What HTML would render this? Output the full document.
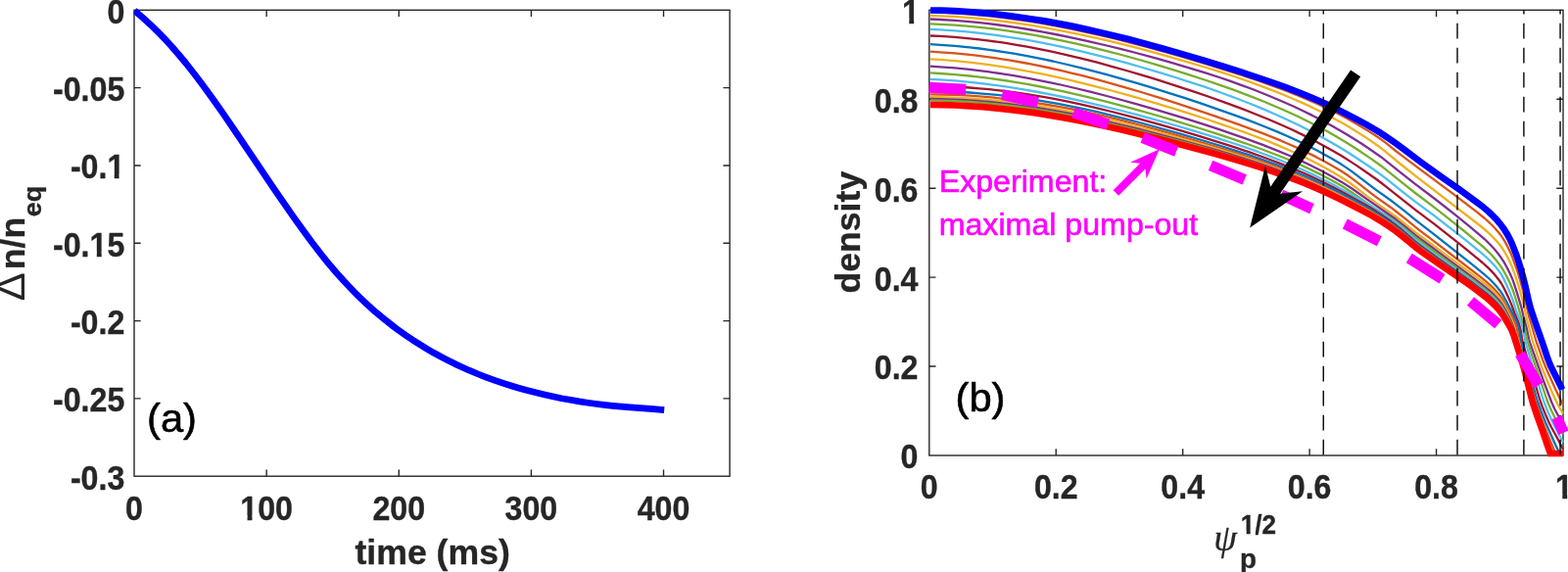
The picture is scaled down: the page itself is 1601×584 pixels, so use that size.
<!DOCTYPE html>
<html lang="en">
<head>
<meta charset="utf-8">
<title>Density pump-out: time trace and profile evolution</title>
<style>
html,body{margin:0;padding:0;background:#fff;}
body{width:1601px;height:584px;overflow:hidden;}
svg{display:block;}
</style>
</head>
<body>
<svg width="1601" height="584" viewBox="0 0 1601 584" role="img" aria-label="Density pump-out: (a) relative density change versus time, (b) density profiles versus normalised radius">
<defs>
<clipPath id="c2"><rect x="948.8" y="10.3" width="647.20" height="454.70"/></clipPath>
<clipPath id="c1"><rect x="136.6" y="0" width="640" height="520"/></clipPath>
</defs>
<rect width="1601" height="584" fill="#fff"/>
<rect x="137.0" y="10.3" width="608.10" height="475.90" fill="none" stroke="#262626" stroke-width="1.39"/>
<path d="M272.13,486.2 v-6.7 M272.13,10.3 v6.7 M407.27,486.2 v-6.7 M407.27,10.3 v6.7 M542.40,486.2 v-6.7 M542.40,10.3 v6.7 M677.53,486.2 v-6.7 M677.53,10.3 v6.7 M137.0,89.62 h6.7 M745.1,89.62 h-6.7 M137.0,168.93 h6.7 M745.1,168.93 h-6.7 M137.0,248.25 h6.7 M745.1,248.25 h-6.7 M137.0,327.57 h6.7 M745.1,327.57 h-6.7 M137.0,406.88 h6.7 M745.1,406.88 h-6.7" fill="none" stroke="#262626" stroke-width="1.39"/>
<path d="M137.3,10.7 L146.3,18.5 L153.6,25.2 L160.8,32.2 L168.1,39.6 L175.3,47.5 L182.5,55.8 L189.8,64.5 L198.8,76.0 L206.0,85.5 L213.3,95.4 L220.5,105.5 L227.8,115.9 L242.2,137.0 L280.2,193.3 L291.1,209.1 L300.1,222.1 L309.2,234.7 L318.2,247.0 L327.2,258.7 L334.5,267.8 L343.5,278.5 L350.8,286.6 L358.0,294.3 L361.6,298.0 L367.0,303.4 L374.3,310.3 L383.3,318.4 L392.4,325.9 L401.4,333.0 L406.8,337.1 L414.1,342.2 L421.3,347.1 L428.6,351.7 L435.8,356.1 L443.0,360.3 L450.3,364.3 L457.5,368.0 L464.7,371.6 L472.0,375.0 L479.2,378.2 L488.3,382.0 L495.5,384.8 L504.5,388.1 L511.8,390.6 L520.8,393.5 L528.1,395.7 L537.1,398.3 L546.1,400.6 L555.2,402.8 L564.2,404.8 L573.3,406.7 L582.3,408.3 L591.4,409.9 L598.6,411.0 L607.6,412.2 L616.7,413.3 L625.7,414.3 L640.2,415.6 L667.3,417.7 L678.2,418.7" fill="none" stroke="#0000ff" stroke-width="6.7" stroke-linejoin="round" clip-path="url(#c1)"/>
<g font-family="'Liberation Sans', sans-serif">
<text transform="translate(127.30 23.70) scale(0.966 1.045)" font-size="33.3" font-weight="bold" fill="#262626" stroke="#262626" stroke-width="0.35" stroke-linejoin="round" text-anchor="end">0</text>
<text transform="translate(127.30 103.02) scale(0.966 1.045)" font-size="33.3" font-weight="bold" fill="#262626" stroke="#262626" stroke-width="0.35" stroke-linejoin="round" text-anchor="end">-0.05</text>
<text transform="translate(127.30 182.33) scale(0.966 1.045)" font-size="33.3" font-weight="bold" fill="#262626" stroke="#262626" stroke-width="0.35" stroke-linejoin="round" text-anchor="end">-0.1</text>
<text transform="translate(127.30 261.65) scale(0.966 1.045)" font-size="33.3" font-weight="bold" fill="#262626" stroke="#262626" stroke-width="0.35" stroke-linejoin="round" text-anchor="end">-0.15</text>
<text transform="translate(127.30 340.97) scale(0.966 1.045)" font-size="33.3" font-weight="bold" fill="#262626" stroke="#262626" stroke-width="0.35" stroke-linejoin="round" text-anchor="end">-0.2</text>
<text transform="translate(127.30 420.28) scale(0.966 1.045)" font-size="33.3" font-weight="bold" fill="#262626" stroke="#262626" stroke-width="0.35" stroke-linejoin="round" text-anchor="end">-0.25</text>
<text transform="translate(127.30 499.60) scale(0.966 1.045)" font-size="33.3" font-weight="bold" fill="#262626" stroke="#262626" stroke-width="0.35" stroke-linejoin="round" text-anchor="end">-0.3</text>
<text transform="translate(137.00 530.80) scale(0.966 1.045)" font-size="33.3" font-weight="bold" fill="#262626" stroke="#262626" stroke-width="0.35" stroke-linejoin="round" text-anchor="middle">0</text>
<text transform="translate(272.13 530.80) scale(0.966 1.045)" font-size="33.3" font-weight="bold" fill="#262626" stroke="#262626" stroke-width="0.35" stroke-linejoin="round" text-anchor="middle">100</text>
<text transform="translate(407.27 530.80) scale(0.966 1.045)" font-size="33.3" font-weight="bold" fill="#262626" stroke="#262626" stroke-width="0.35" stroke-linejoin="round" text-anchor="middle">200</text>
<text transform="translate(542.40 530.80) scale(0.966 1.045)" font-size="33.3" font-weight="bold" fill="#262626" stroke="#262626" stroke-width="0.35" stroke-linejoin="round" text-anchor="middle">300</text>
<text transform="translate(677.53 530.80) scale(0.966 1.045)" font-size="33.3" font-weight="bold" fill="#262626" stroke="#262626" stroke-width="0.35" stroke-linejoin="round" text-anchor="middle">400</text>
<text transform="translate(441.65 575.90) scale(0.972 0.96)" font-size="36.7" font-weight="bold" fill="#262626" stroke="#262626" stroke-width="0.35" stroke-linejoin="round" text-anchor="middle">time (ms)</text>
<text transform="translate(25.10 307.20) rotate(-90) scale(0.972 0.96)" font-size="36.7" font-weight="bold" fill="#262626" stroke="#262626" stroke-width="0.35" stroke-linejoin="round" text-anchor="start"><tspan font-weight="normal" font-size="45" stroke="none">Δ </tspan><tspan x="32.9">n/n</tspan><tspan font-size="27.6" x="88.5" dy="18.1">eq</tspan></text>
<text transform="translate(150.00 441.00) scale(1.0 0.975)" font-size="41.7" font-weight="normal" fill="#000" stroke="#000" stroke-width="0.6" stroke-linejoin="round" text-anchor="start">(a)</text>
</g>
<rect x="948.8" y="10.3" width="647.20" height="454.70" fill="none" stroke="#262626" stroke-width="1.39"/>
<path d="M1078.24,465.0 v-6.7 M1078.24,10.3 v6.7 M1207.68,465.0 v-6.7 M1207.68,10.3 v6.7 M1337.12,465.0 v-6.7 M1337.12,10.3 v6.7 M1466.56,465.0 v-6.7 M1466.56,10.3 v6.7 M948.8,374.06 h6.7 M1596.0,374.06 h-6.7 M948.8,283.12 h6.7 M1596.0,283.12 h-6.7 M948.8,192.18 h6.7 M1596.0,192.18 h-6.7 M948.8,101.24 h6.7 M1596.0,101.24 h-6.7" fill="none" stroke="#262626" stroke-width="1.39"/>
<g fill="none" stroke-linejoin="round">
<g stroke-width="2.3">
<path d="M950.0,10.5 L960.0,10.7 L975.0,11.2 L990.0,12.1 L1000.0,12.9 L1015.0,14.3 L1030.0,16.0 L1045.0,18.1 L1055.0,19.6 L1070.0,22.1 L1080.0,23.9 L1095.0,26.8 L1110.0,30.0 L1125.0,33.4 L1140.0,37.0 L1155.0,40.8 L1170.0,44.7 L1190.0,50.2 L1210.0,56.0 L1230.0,62.0 L1250.0,68.1 L1270.0,74.5 L1285.0,79.4 L1300.0,84.6 L1315.0,90.1 L1330.0,95.9 L1340.0,100.0 L1350.0,104.4 L1360.0,109.0 L1370.0,113.9 L1385.0,121.6 L1395.0,127.1 L1405.0,132.9 L1410.0,136.0 L1415.0,139.3 L1425.0,146.2 L1435.0,153.6 L1450.0,165.0 L1470.0,179.3 L1491.0,194.1 L1502.5,202.4 L1510.0,208.1 L1514.0,211.2 L1517.5,214.1 L1520.5,216.7 L1523.5,219.6 L1526.5,222.7 L1530.0,226.5 L1532.5,229.6 L1534.5,232.2 L1536.5,235.1 L1538.5,238.3 L1540.5,242.0 L1542.5,246.0 L1545.5,253.0 L1549.5,263.9 L1552.0,271.8 L1555.0,282.7 L1558.0,294.6 L1561.0,308.1 L1562.5,313.8 L1566.5,326.0 L1575.0,350.2 L1579.0,362.3 L1581.0,367.9 L1582.5,371.7 L1584.5,376.1 L1590.5,388.1 L1595.0,397.4 L1595.5,397.6 L1596.0,397.6" stroke="#0072BD"/>
<path d="M950.0,12.4 L960.0,12.7 L975.0,13.4 L990.0,14.5 L1000.0,15.4 L1010.0,16.4 L1025.0,18.2 L1035.0,19.5 L1050.0,21.7 L1065.0,24.2 L1080.0,26.9 L1095.0,29.9 L1110.0,33.0 L1125.0,36.4 L1140.0,40.0 L1155.0,43.8 L1170.0,47.7 L1190.0,53.2 L1210.0,59.0 L1230.0,64.9 L1250.0,71.1 L1270.0,77.5 L1285.0,82.5 L1300.0,87.8 L1310.0,91.5 L1325.0,97.4 L1335.0,101.6 L1345.0,106.0 L1355.0,110.6 L1365.0,115.5 L1375.0,120.7 L1385.0,126.4 L1395.0,132.4 L1405.0,138.8 L1410.0,142.2 L1415.0,145.9 L1425.0,154.0 L1430.0,157.8 L1450.0,172.9 L1485.0,198.9 L1508.5,216.9 L1516.0,223.0 L1519.0,225.6 L1522.0,228.5 L1525.0,231.5 L1527.5,234.3 L1530.5,237.8 L1532.5,240.4 L1535.0,244.1 L1537.0,247.4 L1539.0,251.1 L1541.0,255.2 L1543.0,259.6 L1544.5,263.3 L1548.5,274.5 L1551.5,284.0 L1554.5,294.9 L1557.5,306.9 L1560.5,320.5 L1561.6,325.0 L1564.4,334.0 L1568.4,348.0 L1574.9,366.5 L1577.2,372.5 L1579.7,378.5 L1588.3,397.5 L1596.0,413.8" stroke="#D95319"/>
<path d="M950.0,16.0 L960.0,16.3 L975.0,17.0 L990.0,18.1 L1000.0,19.0 L1015.0,20.6 L1030.0,22.5 L1045.0,24.6 L1055.0,26.2 L1070.0,28.8 L1085.0,31.6 L1100.0,34.6 L1115.0,37.8 L1130.0,41.2 L1145.0,44.9 L1160.0,48.7 L1175.0,52.7 L1190.0,56.8 L1210.0,62.6 L1230.0,68.5 L1245.0,73.1 L1260.0,78.0 L1270.0,81.4 L1285.0,86.8 L1295.0,90.6 L1310.0,96.5 L1320.0,100.7 L1335.0,107.4 L1345.0,112.2 L1355.0,117.2 L1370.0,125.3 L1375.0,128.1 L1385.0,134.2 L1395.0,140.6 L1405.0,147.5 L1410.0,151.2 L1415.0,155.1 L1430.0,167.5 L1445.0,179.4 L1512.0,231.0 L1518.5,236.5 L1523.5,241.2 L1528.5,246.6 L1532.5,251.5 L1534.5,254.4 L1536.5,257.6 L1538.5,261.2 L1540.5,265.0 L1542.5,269.3 L1544.0,272.8 L1547.0,281.1 L1550.5,291.9 L1554.0,304.3 L1556.8,315.5 L1558.1,322.0 L1559.0,326.0 L1561.8,336.5 L1564.5,347.0 L1569.2,361.0 L1572.7,371.0 L1575.0,377.0 L1581.3,392.5 L1585.8,403.0 L1590.3,412.5 L1596.0,422.5" stroke="#EDB120"/>
<path d="M950.0,19.5 L960.0,20.0 L975.0,20.9 L990.0,22.1 L1005.0,23.7 L1020.0,25.5 L1035.0,27.6 L1050.0,30.0 L1065.0,32.6 L1080.0,35.5 L1095.0,38.6 L1110.0,41.8 L1130.0,46.5 L1145.0,50.2 L1160.0,54.0 L1180.0,59.4 L1195.0,63.7 L1210.0,68.1 L1230.0,74.2 L1245.0,79.0 L1255.0,82.4 L1270.0,87.8 L1280.0,91.5 L1290.0,95.5 L1305.0,101.7 L1320.0,108.3 L1330.0,113.0 L1340.0,117.9 L1350.0,123.1 L1360.0,128.5 L1370.0,134.2 L1380.0,140.2 L1390.0,146.5 L1400.0,153.2 L1410.0,160.2 L1415.0,164.1 L1430.0,176.1 L1445.0,187.9 L1465.0,203.0 L1485.0,218.6 L1499.5,230.3 L1512.0,240.8 L1516.0,244.3 L1519.5,247.7 L1523.0,251.3 L1526.0,254.6 L1529.5,258.8 L1532.0,262.1 L1535.5,267.4 L1538.5,272.7 L1542.0,279.7 L1544.5,285.6 L1546.0,289.8 L1549.0,299.1 L1552.5,310.9 L1553.8,315.5 L1555.4,322.5 L1558.7,335.0 L1561.2,346.5 L1562.1,349.5 L1563.3,353.0 L1575.5,387.5 L1584.2,410.5 L1585.5,413.5 L1587.1,417.0 L1596.0,434.0" stroke="#7E2F8E"/>
<path d="M950.0,24.4 L960.0,24.8 L975.0,25.6 L990.0,26.8 L1000.0,27.8 L1015.0,29.5 L1030.0,31.6 L1045.0,34.0 L1055.0,35.7 L1070.0,38.5 L1085.0,41.6 L1100.0,44.9 L1115.0,48.4 L1130.0,52.1 L1145.0,56.0 L1165.0,61.5 L1180.0,65.9 L1200.0,71.9 L1215.0,76.6 L1230.0,81.5 L1245.0,86.6 L1260.0,91.9 L1275.0,97.6 L1290.0,103.5 L1300.0,107.7 L1310.0,112.0 L1325.0,118.8 L1335.0,123.7 L1345.0,128.8 L1355.0,134.1 L1365.0,139.8 L1375.0,145.7 L1385.0,152.0 L1400.0,162.1 L1410.0,169.2 L1415.0,173.1 L1430.0,185.2 L1445.0,197.0 L1465.0,212.2 L1485.0,227.9 L1494.5,235.5 L1510.0,248.3 L1514.0,251.7 L1518.0,255.4 L1522.0,259.3 L1525.5,263.1 L1528.5,266.7 L1531.5,270.6 L1534.5,275.2 L1538.0,281.5 L1542.0,289.6 L1544.5,295.7 L1546.0,300.0 L1549.5,311.2 L1552.5,321.5 L1556.2,333.0 L1557.3,337.5 L1559.1,346.0 L1560.0,349.5 L1566.7,370.5 L1572.4,387.0 L1578.7,406.0 L1581.1,412.5 L1584.2,419.5 L1590.3,432.0 L1596.0,443.2" stroke="#77AC30"/>
<path d="M950.0,29.9 L960.0,30.4 L975.0,31.4 L990.0,32.7 L1005.0,34.3 L1015.0,35.6 L1030.0,37.8 L1045.0,40.2 L1060.0,42.9 L1075.0,45.9 L1090.0,49.2 L1105.0,52.7 L1120.0,56.3 L1135.0,60.2 L1150.0,64.2 L1165.0,68.5 L1185.0,74.4 L1200.0,79.0 L1215.0,83.8 L1230.0,88.7 L1245.0,94.0 L1260.0,99.5 L1275.0,105.3 L1290.0,111.4 L1300.0,115.7 L1310.0,120.2 L1325.0,127.2 L1335.0,132.2 L1345.0,137.5 L1355.0,142.9 L1365.0,148.7 L1375.0,154.8 L1385.0,161.2 L1400.0,171.3 L1410.0,178.4 L1415.0,182.2 L1430.0,194.1 L1445.0,205.8 L1465.0,220.7 L1485.0,236.2 L1496.5,245.2 L1511.5,257.4 L1518.5,263.5 L1522.0,266.9 L1525.0,270.1 L1528.0,273.6 L1531.0,277.4 L1533.0,280.4 L1535.5,285.0 L1538.0,290.3 L1541.5,298.3 L1544.5,305.9 L1548.5,318.5 L1552.4,327.5 L1553.7,331.0 L1554.9,335.0 L1555.6,338.5 L1557.1,347.0 L1558.7,353.0 L1563.7,370.0 L1569.1,386.5 L1574.7,405.0 L1577.1,412.0 L1580.7,421.0 L1585.5,431.5 L1596.0,451.7" stroke="#4DBEEE"/>
<path d="M950.0,36.5 L960.0,36.9 L975.0,37.9 L990.0,39.3 L1000.0,40.4 L1010.0,41.6 L1025.0,43.7 L1035.0,45.3 L1050.0,47.9 L1065.0,50.8 L1075.0,52.9 L1090.0,56.3 L1105.0,59.9 L1120.0,63.7 L1135.0,67.8 L1150.0,72.0 L1165.0,76.4 L1180.0,80.9 L1200.0,87.3 L1220.0,93.9 L1235.0,99.0 L1250.0,104.4 L1265.0,109.9 L1280.0,115.7 L1295.0,121.8 L1310.0,128.3 L1320.0,132.8 L1330.0,137.6 L1340.0,142.6 L1350.0,147.9 L1360.0,153.5 L1370.0,159.3 L1380.0,165.6 L1385.0,168.9 L1395.0,175.7 L1405.0,182.8 L1410.0,186.5 L1415.0,190.3 L1445.0,214.1 L1465.0,229.2 L1491.0,249.6 L1508.5,263.8 L1513.5,268.0 L1517.5,271.6 L1521.0,274.9 L1525.0,279.1 L1528.0,282.7 L1531.0,286.5 L1533.0,289.5 L1535.0,293.0 L1537.5,298.0 L1540.5,304.5 L1543.5,311.6 L1546.3,319.5 L1549.7,327.5 L1551.0,331.0 L1551.9,334.0 L1552.6,337.0 L1554.0,345.5 L1554.6,348.5 L1556.8,356.5 L1560.1,368.0 L1565.1,384.0 L1571.0,404.0 L1572.9,410.0 L1574.5,414.5 L1577.7,422.5 L1581.9,432.0 L1583.9,436.0 L1590.5,448.0 L1596.0,458.9" stroke="#A2142F"/>
<path d="M950.0,45.2 L960.0,45.8 L975.0,46.9 L990.0,48.4 L1000.0,49.5 L1010.0,50.8 L1025.0,53.1 L1035.0,54.7 L1050.0,57.4 L1065.0,60.4 L1075.0,62.5 L1090.0,66.0 L1105.0,69.6 L1130.0,76.1 L1145.0,80.3 L1160.0,84.6 L1175.0,89.1 L1190.0,93.8 L1210.0,100.2 L1225.0,105.2 L1245.0,112.1 L1260.0,117.4 L1275.0,122.9 L1290.0,128.7 L1305.0,134.9 L1315.0,139.2 L1325.0,143.8 L1335.0,148.6 L1345.0,153.8 L1350.0,156.4 L1360.0,162.1 L1370.0,168.1 L1375.0,171.4 L1380.0,174.9 L1385.0,178.6 L1400.0,190.2 L1405.0,193.9 L1420.0,204.5 L1425.0,208.3 L1435.0,216.2 L1445.0,224.4 L1465.0,239.8 L1503.0,269.9 L1514.0,278.8 L1520.5,284.5 L1524.0,288.0 L1526.5,290.7 L1529.0,293.6 L1531.5,296.7 L1534.5,301.2 L1538.0,307.5 L1546.4,324.0 L1548.0,327.5 L1549.4,331.0 L1550.4,334.0 L1551.1,337.0 L1552.6,346.5 L1553.2,349.5 L1556.4,362.5 L1558.2,369.0 L1562.5,383.5 L1568.0,403.5 L1570.1,410.5 L1573.5,420.0 L1577.9,431.0 L1587.0,451.5 L1592.4,463.0 L1592.9,465.5" stroke="#0072BD"/>
<path d="M950.0,52.7 L960.0,53.3 L975.0,54.4 L995.0,56.4 L1010.0,58.3 L1020.0,59.8 L1030.0,61.4 L1045.0,64.0 L1055.0,65.9 L1070.0,69.0 L1085.0,72.4 L1095.0,74.8 L1105.0,77.2 L1120.0,81.2 L1135.0,85.3 L1150.0,89.6 L1165.0,94.0 L1185.0,100.2 L1205.0,106.6 L1220.0,111.6 L1240.0,118.4 L1260.0,125.4 L1275.0,130.8 L1290.0,136.4 L1305.0,142.4 L1315.0,146.7 L1325.0,151.1 L1335.0,155.9 L1345.0,160.9 L1355.0,166.3 L1365.0,172.0 L1370.0,175.0 L1375.0,178.3 L1380.0,181.9 L1385.0,185.6 L1400.0,197.4 L1405.0,201.1 L1420.0,211.7 L1425.0,215.5 L1435.0,223.4 L1445.0,231.7 L1450.0,235.6 L1460.0,243.1 L1480.0,258.5 L1512.5,283.4 L1518.5,288.3 L1523.5,292.9 L1527.5,297.0 L1531.5,301.7 L1533.0,303.8 L1535.0,307.0 L1540.3,317.0 L1544.3,324.0 L1546.0,327.5 L1547.6,331.5 L1548.4,334.0 L1549.0,336.5 L1549.5,339.5 L1550.8,348.0 L1552.7,356.0 L1555.7,367.0 L1560.9,384.5 L1566.0,403.5 L1567.7,409.5 L1571.3,420.5 L1575.3,431.5 L1588.2,463.0 L1588.4,465.5" stroke="#D95319"/>
<path d="M950.0,60.3 L960.0,60.9 L975.0,62.1 L990.0,63.7 L1000.0,64.9 L1010.0,66.2 L1025.0,68.4 L1035.0,70.1 L1050.0,72.8 L1065.0,75.7 L1075.0,77.9 L1090.0,81.2 L1105.0,84.8 L1120.0,88.6 L1135.0,92.5 L1150.0,96.6 L1165.0,100.9 L1185.0,106.8 L1200.0,111.4 L1215.0,116.1 L1230.0,121.0 L1250.0,127.8 L1265.0,133.0 L1280.0,138.5 L1290.0,142.3 L1305.0,148.4 L1315.0,152.7 L1325.0,157.2 L1335.0,161.9 L1345.0,167.0 L1350.0,169.7 L1360.0,175.3 L1370.0,181.2 L1375.0,184.5 L1380.0,188.0 L1385.0,191.8 L1395.0,199.6 L1405.0,207.1 L1420.0,217.4 L1425.0,221.0 L1435.0,228.9 L1445.0,236.9 L1450.0,240.7 L1460.0,248.0 L1480.0,262.9 L1504.0,280.4 L1512.0,286.4 L1518.5,291.6 L1523.5,296.1 L1527.5,300.1 L1531.5,304.6 L1533.0,306.7 L1535.0,309.9 L1537.0,313.5 L1539.5,318.3 L1543.0,325.7 L1544.5,329.4 L1545.5,332.3 L1551.0,350.6 L1555.0,365.0 L1557.5,374.7 L1562.5,395.8 L1565.5,407.0 L1569.0,418.2 L1575.0,436.2 L1580.0,451.8 L1583.0,460.7 L1589.5,462.0 L1596.0,463.0" stroke="#EDB120"/>
<path d="M950.0,67.6 L960.0,68.3 L975.0,69.4 L990.0,70.9 L1000.0,72.1 L1010.0,73.4 L1025.0,75.6 L1035.0,77.2 L1050.0,79.8 L1065.0,82.8 L1075.0,84.8 L1085.0,87.0 L1100.0,90.5 L1115.0,94.2 L1130.0,98.0 L1145.0,102.0 L1160.0,106.1 L1180.0,111.8 L1195.0,116.3 L1210.0,120.9 L1225.0,125.6 L1245.0,132.2 L1260.0,137.3 L1275.0,142.6 L1290.0,148.2 L1305.0,154.1 L1315.0,158.2 L1325.0,162.6 L1335.0,167.3 L1350.0,174.8 L1360.0,180.2 L1370.0,185.9 L1380.0,192.3 L1385.0,195.8 L1400.0,206.4 L1420.0,220.2 L1425.0,223.8 L1435.0,231.7 L1445.0,239.8 L1450.0,243.7 L1460.0,251.0 L1480.0,265.9 L1504.5,283.9 L1514.0,291.1 L1519.5,295.6 L1524.0,299.6 L1527.5,303.2 L1531.0,307.1 L1532.5,309.1 L1534.0,311.3 L1537.0,316.5 L1540.5,323.2 L1542.5,327.3 L1544.0,330.8 L1545.0,333.5 L1551.0,353.1 L1555.0,367.2 L1557.5,376.8 L1562.5,397.6 L1565.5,408.8 L1569.0,419.8 L1575.0,437.5 L1580.0,452.8 L1583.0,461.5 L1589.5,462.4 L1596.0,463.0" stroke="#7E2F8E"/>
<path d="M950.0,74.4 L960.0,75.0 L975.0,76.1 L990.0,77.5 L1000.0,78.7 L1010.0,79.9 L1025.0,82.0 L1035.0,83.6 L1050.0,86.2 L1065.0,89.0 L1075.0,91.1 L1085.0,93.2 L1100.0,96.6 L1115.0,100.2 L1130.0,103.9 L1145.0,107.8 L1160.0,111.9 L1180.0,117.5 L1195.0,121.9 L1225.0,131.0 L1245.0,137.4 L1260.0,142.4 L1275.0,147.5 L1290.0,153.0 L1305.0,158.7 L1315.0,162.8 L1325.0,167.0 L1335.0,171.6 L1350.0,178.9 L1360.0,184.2 L1370.0,189.8 L1380.0,196.2 L1395.0,206.6 L1405.0,213.4 L1410.0,216.7 L1420.0,222.8 L1425.0,226.1 L1430.0,229.8 L1445.0,242.1 L1450.0,245.9 L1460.0,253.3 L1480.0,268.2 L1505.0,286.5 L1514.0,293.3 L1519.5,297.8 L1524.0,301.9 L1527.5,305.4 L1531.0,309.4 L1532.5,311.3 L1534.0,313.5 L1537.5,319.5 L1542.5,329.2 L1544.0,332.6 L1545.0,335.2 L1551.0,354.7 L1555.0,368.7 L1557.5,378.2 L1562.5,398.8 L1565.5,409.8 L1569.0,420.8 L1575.0,438.2 L1580.0,453.4 L1583.0,462.0 L1589.5,462.6 L1596.0,463.0" stroke="#77AC30"/>
<path d="M950.0,80.8 L960.0,81.3 L975.0,82.4 L990.0,83.8 L1005.0,85.5 L1015.0,86.8 L1030.0,88.9 L1045.0,91.3 L1060.0,94.0 L1075.0,96.9 L1090.0,100.0 L1105.0,103.4 L1125.0,108.1 L1145.0,113.0 L1160.0,116.9 L1180.0,122.3 L1195.0,126.5 L1215.0,132.3 L1230.0,136.9 L1245.0,141.6 L1260.0,146.5 L1270.0,149.9 L1285.0,155.2 L1300.0,160.9 L1310.0,164.8 L1320.0,169.0 L1330.0,173.3 L1340.0,177.9 L1350.0,182.7 L1360.0,187.8 L1370.0,193.2 L1385.0,201.5 L1395.0,207.3 L1405.0,213.4 L1410.0,216.7 L1420.0,223.6 L1425.0,227.3 L1430.0,231.4 L1435.0,235.6 L1445.0,244.3 L1450.0,248.4 L1470.0,263.2 L1498.0,283.0 L1511.5,293.1 L1518.5,298.7 L1523.5,303.2 L1527.5,307.2 L1531.5,311.8 L1533.5,314.5 L1535.0,316.9 L1539.5,324.9 L1543.0,331.7 L1545.0,336.6 L1551.0,355.9 L1555.0,369.7 L1557.5,379.1 L1563.0,401.6 L1565.5,410.6 L1569.0,421.5 L1575.0,438.7 L1580.0,453.7 L1583.0,462.3 L1589.5,462.7 L1596.0,463.0" stroke="#4DBEEE"/>
<path d="M950.0,87.8 L960.0,88.0 L975.0,88.5 L990.0,89.5 L1000.0,90.3 L1010.0,91.2 L1025.0,92.9 L1035.0,94.2 L1050.0,96.4 L1065.0,98.9 L1075.0,100.7 L1090.0,103.7 L1105.0,106.9 L1120.0,110.3 L1135.0,114.0 L1150.0,117.8 L1165.0,121.9 L1185.0,127.4 L1205.0,133.2 L1225.0,139.2 L1245.0,145.3 L1260.0,150.2 L1275.0,155.2 L1290.0,160.5 L1305.0,166.1 L1320.0,172.1 L1330.0,176.3 L1340.0,180.8 L1350.0,185.5 L1360.0,190.5 L1370.0,195.8 L1385.0,203.9 L1395.0,209.6 L1405.0,215.6 L1410.0,218.9 L1420.0,225.8 L1425.0,229.6 L1430.0,233.7 L1445.0,246.6 L1450.0,250.6 L1470.0,265.2 L1499.0,285.5 L1511.5,294.8 L1518.0,299.9 L1523.5,304.8 L1527.5,308.7 L1531.5,313.3 L1533.5,316.0 L1535.0,318.2 L1540.0,326.9 L1543.0,332.6 L1545.0,337.5 L1551.0,356.6 L1555.0,370.3 L1557.5,379.7 L1563.0,402.0 L1565.5,410.9 L1569.0,421.7 L1575.0,438.9 L1580.0,453.8 L1583.0,462.4 L1596.0,463.0" stroke="#A2142F"/>
<path d="M950.0,93.1 L960.0,93.3 L975.0,93.7 L990.0,94.5 L1000.0,95.3 L1015.0,96.6 L1030.0,98.3 L1045.0,100.2 L1055.0,101.7 L1070.0,104.1 L1080.0,105.9 L1090.0,107.8 L1105.0,110.9 L1120.0,114.2 L1135.0,117.8 L1150.0,121.6 L1165.0,125.5 L1185.0,131.0 L1205.0,136.7 L1225.0,142.5 L1245.0,148.5 L1260.0,153.3 L1275.0,158.2 L1290.0,163.3 L1305.0,168.8 L1320.0,174.6 L1330.0,178.7 L1340.0,183.1 L1350.0,187.7 L1360.0,192.6 L1370.0,197.8 L1385.0,205.8 L1400.0,214.2 L1405.0,217.2 L1410.0,220.4 L1420.0,227.2 L1425.0,230.9 L1430.0,234.9 L1445.0,247.7 L1450.0,251.7 L1470.0,266.2 L1498.5,286.2 L1511.5,295.8 L1518.0,301.0 L1523.5,305.9 L1527.5,309.9 L1531.5,314.5 L1533.5,317.1 L1535.0,319.4 L1540.0,327.9 L1543.0,333.6 L1544.0,335.8 L1545.0,338.3 L1551.0,357.4 L1555.0,371.1 L1557.5,380.3 L1563.0,402.5 L1565.5,411.5 L1569.0,422.2 L1575.0,439.2 L1580.0,454.1 L1583.0,462.6 L1596.0,463.0" stroke="#0072BD"/>
<path d="M950.0,96.3 L960.0,96.5 L975.0,96.9 L990.0,97.7 L1000.0,98.4 L1015.0,99.7 L1030.0,101.3 L1045.0,103.2 L1055.0,104.6 L1070.0,107.0 L1085.0,109.6 L1095.0,111.5 L1110.0,114.5 L1125.0,117.9 L1135.0,120.3 L1150.0,124.1 L1165.0,128.0 L1185.0,133.4 L1205.0,139.1 L1230.0,146.4 L1245.0,150.9 L1260.0,155.6 L1275.0,160.5 L1290.0,165.7 L1305.0,171.2 L1320.0,177.0 L1330.0,181.2 L1340.0,185.5 L1350.0,190.1 L1360.0,194.9 L1370.0,200.0 L1385.0,207.8 L1400.0,216.0 L1405.0,218.9 L1410.0,222.0 L1420.0,228.7 L1425.0,232.3 L1430.0,236.2 L1445.0,248.7 L1450.0,252.6 L1470.0,266.9 L1495.5,284.6 L1506.5,292.7 L1514.5,298.9 L1521.0,304.4 L1526.5,309.7 L1529.0,312.4 L1531.5,315.4 L1533.5,318.0 L1535.0,320.2 L1540.5,329.4 L1543.0,334.1 L1544.0,336.2 L1545.0,338.8 L1551.0,357.7 L1555.0,371.3 L1557.5,380.6 L1563.0,402.7 L1565.5,411.5 L1569.0,422.2 L1575.0,439.2 L1580.0,454.0 L1583.0,462.5 L1596.0,463.0" stroke="#D95319"/>
<path d="M950.0,99.0 L960.0,99.1 L975.0,99.6 L990.0,100.4 L1000.0,101.1 L1015.0,102.4 L1030.0,104.0 L1045.0,105.9 L1055.0,107.3 L1070.0,109.7 L1085.0,112.4 L1095.0,114.3 L1110.0,117.3 L1125.0,120.7 L1140.0,124.2 L1155.0,127.9 L1175.0,133.0 L1195.0,138.4 L1215.0,143.9 L1235.0,149.6 L1250.0,154.1 L1265.0,158.8 L1280.0,163.7 L1290.0,167.1 L1305.0,172.5 L1320.0,178.3 L1330.0,182.3 L1340.0,186.6 L1350.0,191.1 L1360.0,195.9 L1370.0,200.9 L1385.0,208.7 L1400.0,216.8 L1405.0,219.7 L1410.0,222.8 L1420.0,229.4 L1425.0,233.0 L1430.0,236.9 L1445.0,249.3 L1450.0,253.3 L1470.0,267.5 L1495.5,285.1 L1506.0,292.7 L1514.5,299.3 L1521.0,304.8 L1526.5,310.1 L1529.0,312.8 L1531.5,315.8 L1533.5,318.5 L1535.0,320.7 L1540.5,329.9 L1543.0,334.5 L1544.0,336.7 L1545.0,339.2 L1551.0,358.2 L1555.0,371.7 L1557.5,380.9 L1563.0,403.0 L1565.5,411.9 L1569.0,422.6 L1575.0,439.5 L1580.0,454.2 L1583.0,462.7 L1596.0,463.0" stroke="#EDB120"/>
<path d="M950.0,101.0 L960.0,101.2 L975.0,101.6 L990.0,102.5 L1000.0,103.2 L1015.0,104.5 L1030.0,106.1 L1045.0,108.1 L1055.0,109.5 L1070.0,111.9 L1080.0,113.7 L1095.0,116.5 L1110.0,119.6 L1125.0,122.8 L1145.0,127.5 L1160.0,131.2 L1180.0,136.3 L1200.0,141.6 L1220.0,147.0 L1240.0,152.7 L1255.0,157.2 L1270.0,161.8 L1285.0,166.7 L1300.0,171.9 L1310.0,175.6 L1320.0,179.4 L1330.0,183.4 L1340.0,187.6 L1350.0,192.0 L1360.0,196.8 L1370.0,201.8 L1385.0,209.4 L1400.0,217.5 L1405.0,220.4 L1410.0,223.5 L1420.0,230.0 L1425.0,233.6 L1430.0,237.5 L1445.0,249.9 L1450.0,253.8 L1470.0,268.0 L1495.0,285.2 L1505.5,292.8 L1514.0,299.3 L1521.0,305.3 L1526.5,310.5 L1529.0,313.3 L1531.5,316.2 L1533.5,318.9 L1535.0,321.1 L1540.5,330.3 L1543.0,335.0 L1544.0,337.1 L1545.0,339.7 L1551.0,358.6 L1555.0,372.1 L1557.5,381.3 L1563.0,403.4 L1565.5,412.2 L1569.0,422.9 L1575.0,439.7 L1580.0,454.4 L1583.0,462.9 L1596.0,463.0" stroke="#7E2F8E"/>
<path d="M950.0,102.4 L960.0,102.6 L975.0,103.2 L990.0,104.0 L1005.0,105.2 L1015.0,106.1 L1030.0,107.7 L1045.0,109.7 L1060.0,111.9 L1070.0,113.6 L1085.0,116.2 L1100.0,119.1 L1115.0,122.3 L1130.0,125.6 L1145.0,129.1 L1165.0,133.9 L1185.0,139.0 L1205.0,144.2 L1225.0,149.7 L1240.0,153.9 L1255.0,158.4 L1270.0,163.0 L1285.0,167.8 L1300.0,173.0 L1310.0,176.6 L1320.0,180.4 L1330.0,184.4 L1340.0,188.5 L1350.0,193.0 L1360.0,197.7 L1370.0,202.6 L1385.0,210.3 L1400.0,218.3 L1405.0,221.1 L1410.0,224.2 L1420.0,230.8 L1425.0,234.3 L1430.0,238.2 L1445.0,250.6 L1450.0,254.5 L1470.0,268.6 L1495.0,285.7 L1505.0,292.9 L1514.0,299.8 L1520.5,305.3 L1524.0,308.5 L1526.5,311.0 L1529.0,313.7 L1531.5,316.7 L1533.5,319.3 L1535.0,321.5 L1540.5,330.6 L1543.0,335.2 L1544.0,337.3 L1545.0,339.8 L1551.5,360.3 L1555.5,374.0 L1557.5,381.4 L1563.0,403.4 L1565.5,412.2 L1569.0,422.8 L1575.0,439.7 L1580.0,454.4 L1583.0,462.8 L1596.0,463.0" stroke="#77AC30"/>
</g>
<path d="M950.0,10.5 L961.4,10.7 L974.5,11.2 L989.1,12.0 L999.4,12.8 L1012.4,14.0 L1026.5,15.6 L1038.9,17.2 L1052.4,19.2 L1066.3,21.4 L1079.7,23.9 L1093.1,26.4 L1108.0,29.6 L1122.8,32.9 L1137.7,36.4 L1152.4,40.1 L1168.8,44.4 L1187.1,49.4 L1207.0,55.1 L1228.4,61.5 L1249.7,68.0 L1268.4,73.9 L1285.4,79.6 L1300.9,84.9 L1314.1,89.7 L1326.8,94.6 L1338.4,99.4 L1349.4,104.1 L1360.3,109.1 L1371.0,114.4 L1386.0,122.2 L1395.1,127.1 L1404.5,132.6 L1409.6,135.7 L1413.2,138.1 L1418.6,141.7 L1424.0,145.5 L1433.2,152.2 L1446.6,162.4 L1452.3,166.6 L1470.9,180.0 L1483.4,188.7 L1490.9,194.0 L1502.8,202.7 L1510.2,208.2 L1514.1,211.2 L1517.4,214.0 L1520.3,216.5 L1523.4,219.5 L1526.5,222.6 L1529.8,226.3 L1532.2,229.2 L1534.5,232.2 L1536.4,234.9 L1538.1,237.7 L1539.7,240.5 L1541.5,243.9 L1542.9,246.8 L1544.4,250.3 L1547.8,258.9 L1550.6,267.2 L1553.2,276.0 L1555.2,283.4 L1557.5,292.4 L1560.6,306.2 L1561.9,311.5 L1563.2,316.2 L1566.7,326.5 L1575.3,351.1 L1579.8,364.6 L1581.7,369.7 L1583.1,373.1 L1584.7,376.6 L1590.6,388.3 L1595.1,397.6" stroke="#0000ff" stroke-width="6.7"/>
<path d="M950.0,106.9 L962.6,107.1 L975.7,107.5 L990.4,108.3 L1003.5,109.2 L1016.0,110.3 L1030.1,111.8 L1044.7,113.6 L1057.7,115.4 L1071.2,117.6 L1085.7,120.1 L1100.6,122.9 L1114.5,125.8 L1129.4,129.0 L1146.3,132.8 L1164.6,137.2 L1184.0,142.0 L1204.3,147.2 L1223.1,152.2 L1240.8,157.1 L1257.0,161.7 L1271.5,166.1 L1286.1,170.6 L1299.5,175.1 L1311.9,179.5 L1323.2,183.7 L1333.5,187.7 L1344.1,192.2 L1353.7,196.5 L1366.5,202.6 L1382.4,210.6 L1395.4,217.4 L1401.9,220.9 L1406.4,223.6 L1411.8,226.9 L1418.8,231.5 L1422.7,234.2 L1425.6,236.4 L1431.0,240.6 L1437.9,246.2 L1446.0,253.0 L1450.1,256.1 L1456.1,260.4 L1470.8,270.6 L1496.8,288.3 L1502.8,292.6 L1509.5,297.6 L1513.7,300.8 L1517.4,303.7 L1520.6,306.4 L1523.7,309.3 L1526.0,311.5 L1528.5,314.1 L1530.9,316.9 L1532.9,319.4 L1534.4,321.5 L1536.1,324.1 L1541.5,333.2 L1543.7,337.4 L1545.2,341.2 L1551.4,360.8 L1555.5,374.4 L1557.4,381.4 L1562.9,403.3 L1564.2,408.4 L1565.4,412.4 L1568.9,422.9 L1574.9,439.7 L1579.8,454.1 L1583.0,463.0 L1596.0,463.0" stroke="#ff0000" stroke-width="6.7" stroke-linejoin="miter"/>
</g>
<path d="M1351.25,-1.25 V465.0 M1488.0,-1.25 V465.0 M1555.9,-1.25 V465.0 M1593.05,-1.25 V465.0" fill="none" stroke="#000" stroke-width="1.39" stroke-dasharray="15.7 9.3" clip-path="url(#c2)"/>
<path d="M948.6,89.3 L986.2,91.4 M1023.2,96.7 L1059.7,104.7 M1096.0,115.0 L1131.5,127.0 M1166.6,140.6 L1201.2,154.5 M1236.0,168.8 L1270.7,183.4 M1308.0,198.7 L1339.5,213.1 M1373.3,228.5 L1408.3,246.2 M1438.75,263.5 L1472.5,284.75 M1501.5,307.5 L1529.8,331.1 M1552.0,361.3 L1570.8,393.4 M1589.6,426.1 L1596.4,441.85" fill="none" stroke="#ff00ff" stroke-width="11.1"/>
<path d="M1139.4,197.0 L1170.4,165.9" stroke="#ff00ff" stroke-width="7.8" fill="none"/>
<path d="M1183.9,152.3 L1154.1,165.7 L1169.0,167.3 L1170.6,182.6 Z" fill="#ff00ff"/>
<path d="M1384.1,74.9 L1298.1,200.1" stroke="#000000" stroke-width="12.2" fill="none"/>
<path d="M1276.2,232.6 L1292.0,169.3 L1299.2,198.4 L1330.1,195.3 Z" fill="#000000"/>
<g font-family="'Liberation Sans', sans-serif">
<text transform="translate(937.50 478.40) scale(0.966 1.045)" font-size="33.3" font-weight="bold" fill="#262626" stroke="#262626" stroke-width="0.35" stroke-linejoin="round" text-anchor="end">0</text>
<text transform="translate(937.50 387.46) scale(0.966 1.045)" font-size="33.3" font-weight="bold" fill="#262626" stroke="#262626" stroke-width="0.35" stroke-linejoin="round" text-anchor="end">0.2</text>
<text transform="translate(937.50 296.52) scale(0.966 1.045)" font-size="33.3" font-weight="bold" fill="#262626" stroke="#262626" stroke-width="0.35" stroke-linejoin="round" text-anchor="end">0.4</text>
<text transform="translate(937.50 205.58) scale(0.966 1.045)" font-size="33.3" font-weight="bold" fill="#262626" stroke="#262626" stroke-width="0.35" stroke-linejoin="round" text-anchor="end">0.6</text>
<text transform="translate(937.50 114.64) scale(0.966 1.045)" font-size="33.3" font-weight="bold" fill="#262626" stroke="#262626" stroke-width="0.35" stroke-linejoin="round" text-anchor="end">0.8</text>
<text transform="translate(938.90 23.70) scale(0.966 1.045)" font-size="33.3" font-weight="bold" fill="#262626" stroke="#262626" stroke-width="0.35" stroke-linejoin="round" text-anchor="end">1</text>
<text transform="translate(948.80 509.00) scale(0.966 1.045)" font-size="33.3" font-weight="bold" fill="#262626" stroke="#262626" stroke-width="0.35" stroke-linejoin="round" text-anchor="middle">0</text>
<text transform="translate(1078.24 509.00) scale(0.966 1.045)" font-size="33.3" font-weight="bold" fill="#262626" stroke="#262626" stroke-width="0.35" stroke-linejoin="round" text-anchor="middle">0.2</text>
<text transform="translate(1207.68 509.00) scale(0.966 1.045)" font-size="33.3" font-weight="bold" fill="#262626" stroke="#262626" stroke-width="0.35" stroke-linejoin="round" text-anchor="middle">0.4</text>
<text transform="translate(1337.12 509.00) scale(0.966 1.045)" font-size="33.3" font-weight="bold" fill="#262626" stroke="#262626" stroke-width="0.35" stroke-linejoin="round" text-anchor="middle">0.6</text>
<text transform="translate(1466.56 509.00) scale(0.966 1.045)" font-size="33.3" font-weight="bold" fill="#262626" stroke="#262626" stroke-width="0.35" stroke-linejoin="round" text-anchor="middle">0.8</text>
<text transform="translate(1597.00 509.00) scale(0.966 1.045)" font-size="33.3" font-weight="bold" fill="#262626" stroke="#262626" stroke-width="0.35" stroke-linejoin="round" text-anchor="middle">1</text>
<text transform="translate(878.30 237.20) rotate(-90) scale(0.972 0.96)" font-size="36.7" font-weight="bold" fill="#262626" stroke="#262626" stroke-width="0.35" stroke-linejoin="round" text-anchor="middle">density</text>
<text transform="translate(1239.20 561.50)" font-size="38" font-weight="normal" fill="#262626" stroke="#262626" stroke-width="0.3" stroke-linejoin="round" text-anchor="start" font-family="'Liberation Serif', 'DejaVu Serif', serif" font-style="italic">ψ</text>
<text transform="translate(1266.80 545.20) scale(0.983388 1.045)" font-size="26.5" font-weight="bold" fill="#262626" stroke="#262626" stroke-width="0.35" stroke-linejoin="round" text-anchor="start">1/2</text>
<text transform="translate(1266.00 580.40) scale(0.972 0.96)" font-size="28.6" font-weight="bold" fill="#262626" stroke="#262626" stroke-width="0.35" stroke-linejoin="round" text-anchor="start">p</text>
<text transform="translate(975.50 419.50) scale(1.0 0.975)" font-size="41.7" font-weight="normal" fill="#000" stroke="#000" stroke-width="0.6" stroke-linejoin="round" text-anchor="start">(b)</text>
<text transform="translate(958.70 196.30) scale(0.966 0.95)" font-size="33.3" font-weight="normal" fill="#ff00ff" stroke="#ff00ff" stroke-width="0.6" stroke-linejoin="round" text-anchor="start">Experiment:</text>
<text transform="translate(958.70 240.00) scale(0.966 0.95)" font-size="33.3" font-weight="normal" fill="#ff00ff" stroke="#ff00ff" stroke-width="0.6" stroke-linejoin="round" text-anchor="start">maximal pump-out</text>
</g>
<g fill="#fff"><rect x="110.28" y="177.88" width="6.40" height="6.05"/><rect x="121.57" y="177.88" width="5.99" height="6.05"/><rect x="92.39" y="257.20" width="6.40" height="6.05"/><rect x="103.68" y="257.20" width="5.99" height="6.05"/><rect x="246.17" y="526.35" width="6.40" height="6.05"/><rect x="257.46" y="526.35" width="5.99" height="6.05"/><rect x="921.88" y="19.25" width="6.40" height="6.05"/><rect x="933.17" y="19.25" width="5.99" height="6.05"/><rect x="1588.92" y="504.55" width="6.40" height="6.05"/><rect x="1600.22" y="504.55" width="5.99" height="6.05"/><rect x="1267.26" y="541.66" width="5.38" height="5.14"/><rect x="1276.70" y="541.66" width="5.04" height="5.14"/></g>
</svg>
</body>
</html>
